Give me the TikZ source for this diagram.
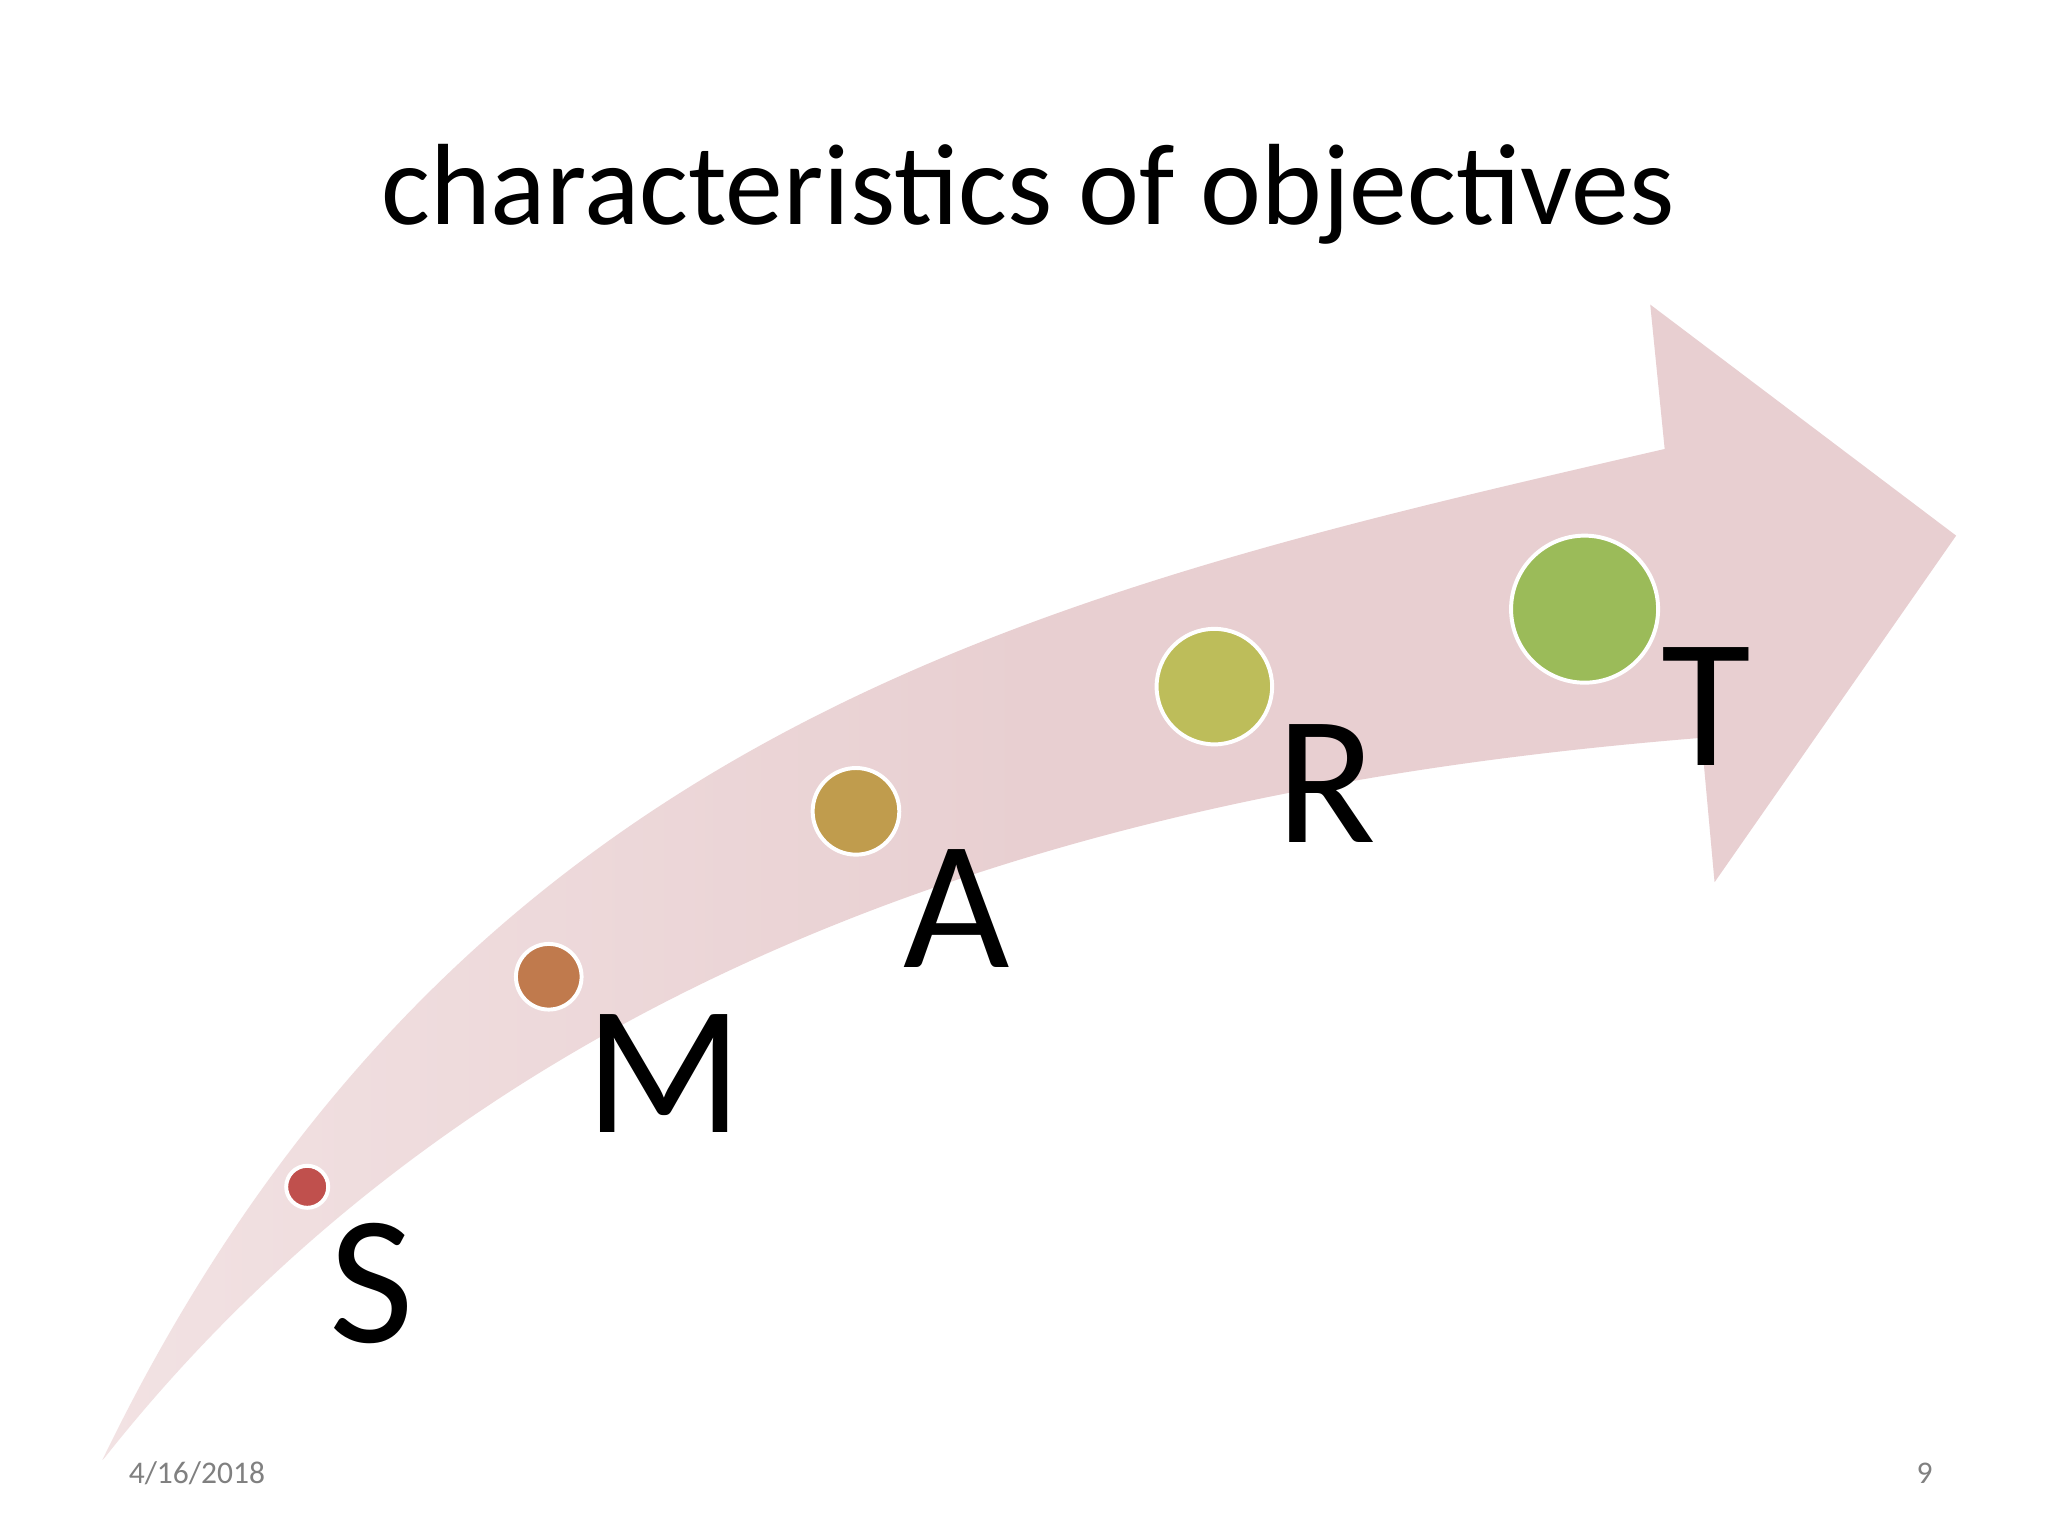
\documentclass[tikz,border=0pt]{standalone}
\usepackage{fontspec}
\setmainfont{Carlito}
\definecolor{arr}{HTML}{E8CFD1}
\definecolor{arrl}{HTML}{F2E2E3}
\definecolor{cS}{HTML}{C0504D}
\definecolor{cM}{HTML}{C07A4D}
\definecolor{cA}{HTML}{C09C4D}
\definecolor{cR}{HTML}{BDBD5A}
\definecolor{cT}{HTML}{9BBB59}
\begin{document}
\begin{tikzpicture}[x=1pt,y=-1pt,
  dot/.style={circle,draw=white,line width=3pt,inner sep=0pt},
  letter/.style={font=\fontsize{140}{140}\selectfont,inner sep=0pt}]
\useasboundingbox[fill=white] (0,0) rectangle (1560,1170);
\shade[left color=arrl,right color=arr,middle color=arr]
 (78,1112) .. controls (350,550) and (800,450) .. (1268,342)
 -- (1257,232) -- (1490,408) -- (1306,672) -- (1296,562)
 .. controls (950,590) and (420,680) .. (80,1110) -- cycle;
\node[font=\fontsize{88}{88}\selectfont] (title) at (783,148) {characteristics of objectives};
\node[dot,fill=cS,minimum size=32pt] (dS) at (234,904) {};
\node[dot,fill=cM,minimum size=50pt] (dM) at (418,744) {};
\node[dot,fill=cA,minimum size=66pt] (dA) at (652,618) {};
\node[dot,fill=cR,minimum size=88pt] (dR) at (925,523) {};
\node[dot,fill=cT,minimum size=112pt] (dT) at (1207,464) {};
\node[letter] (S) at (283,978) {S};
\node[letter] (M) at (506,818) {M};
\node[letter] (A) at (729,692) {A};
\node[letter] (R) at (1010,597) {R};
\node[letter] (T) at (1300,538) {T};
\node[font=\fontsize{24}{24}\selectfont,text=gray] (date) at (150,1122) {4/16/2018};
\node[font=\fontsize{24}{24}\selectfont,text=gray] (pg) at (1466,1122) {9};
\end{tikzpicture}
\end{document}
